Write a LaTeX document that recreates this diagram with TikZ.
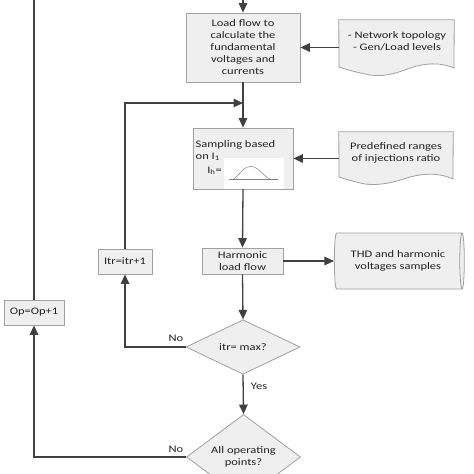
\documentclass[tikz,border=0pt]{standalone}
\usepackage{fontspec}
\setmainfont{Carlito}[FakeStretch=1.25]
\usetikzlibrary{shapes.geometric,arrows.meta}
\definecolor{ln}{HTML}{404040}
\definecolor{boxline}{HTML}{A0A0A0}
\definecolor{boxfill}{HTML}{EFEFEF}
\definecolor{txt}{HTML}{222222}
\tikzset{
  box/.style={draw=boxline, fill=boxfill, line width=0.8pt, inner sep=0pt, align=center, text=txt},
  conn/.style={draw=ln, line width=1.3pt, -{Triangle[length=9.5pt,width=8.5pt]}},
  plainline/.style={draw=ln, line width=1.3pt},
  docshape/.style={draw=boxline, fill=boxfill, line width=0.8pt},
  lbl/.style={text=txt, inner sep=0pt},
  ghost/.style={draw=none, inner sep=0pt}
}
\begin{document}
\begin{tikzpicture}[x=1pt,y=-1pt,font=\fontsize{10}{12}\selectfont]
\useasboundingbox (0,0) rectangle (474,474);
\clip (0,0) rectangle (474,474);
\fill[white] (0,0) rectangle (474,474);

% main boxes
\node[box, minimum width=114pt, minimum height=69pt] (lf) at (243,47.5)
  {Load flow to\\calculate the\\fundamental\\voltages and\\currents};
\node[box, minimum width=100pt, minimum height=61pt] (s) at (243,158.5) {};
\node[lbl, anchor=north west, align=left] (stxt) at (195.5,140) {Sampling based\\on I\textsubscript{1}};
\node[lbl, anchor=east] (ih) at (222,171) {I\textsubscript{h}=};
\node[fill=white, draw=none, minimum width=60pt, minimum height=31pt, inner sep=0pt] (inset) at (253.5,173) {};
\draw[boxline!80!black, line width=0.5pt] (inset.west |- 0,179) ++(6,0) -- ++(49,0);
\draw[boxline!80!black, line width=0.5pt] (234,179) .. controls (242,172) and (244,166) .. (251,166.5)
  .. controls (259,167) and (262,175) .. (270,179);

\node[box, minimum width=81pt, minimum height=26pt] (h) at (242.5,261) {Harmonic\\load flow};
\node[box, minimum width=54pt, minimum height=25pt] (itr) at (125,261.5) {Itr=itr+1};
\node[box, minimum width=60pt, minimum height=25pt] (op) at (34,312.5) {Op=Op+1};
\node[box, diamond, minimum width=114pt, minimum height=54pt] (dm1) at (243,347) {itr= max?};
\node[box, diamond, minimum width=114pt, minimum height=54pt] (dm2) at (243.5,457) {All operating\\points?};

% cylinder
\node[box, cylinder, shape border rotate=0, aspect=0.22, minimum height=130pt, minimum width=56pt] (cyl) at (398,261)
  {THD and harmonic\\voltages samples};

% documents
\node[ghost, minimum width=115pt, minimum height=55pt] (d1) at (396.5,47.5) {};
\draw[docshape] (d1.north west) -- (d1.north east) -- (454,68)
  .. controls (440,62) and (425,63) .. (410,68)
  .. controls (395,74) and (380,78) .. (365,74)
  .. controls (355,72) and (345,69) .. (339,67) -- cycle;
\node[lbl, align=center] (d1t) at (397,41) {- Network topology\\- Gen/Load levels};

\node[ghost, minimum width=114pt, minimum height=51pt] (d2) at (396,157.5) {};
\draw[docshape] (d2.north west) -- (d2.north east) -- (453,179)
  .. controls (440,173) and (425,173) .. (410,177)
  .. controls (395,182) and (380,186) .. (365,184)
  .. controls (355,182) and (345,179) .. (339,177) -- cycle;
\node[lbl, align=center] (d2t) at (396,153) {Predefined ranges\\of injections ratio};

% connectors
\coordinate (top) at (243,0);
\coordinate (optop) at (34,0);
\coordinate (j) at (243,103);
\draw[conn] (top) -- (lf.north);
\draw[conn] (d1.west) -- (lf.east);
\draw[conn] (lf.south) -- (s.north);
\draw[conn] (d2.west |- s.east) -- (s.east);
\draw[conn] (itr.north) |- (j);
\draw[conn] (s.south) -- (h.north);
\draw[conn] (h.east) -- (cyl.west);
\draw[conn] (h.south) -- (dm1.north);
\draw[conn] (dm1.west) -| (itr.south);
\draw[conn] (dm1.south) -- (dm2.north);
\draw[conn] (dm2.west) -| (op.south);
\draw[plainline] (op.north) -- (optop);

% labels
\node[lbl] (no1) at (176,338) {No};
\node[lbl] (no2) at (176,449) {No};
\node[lbl] (yes) at (259,386) {Yes};
\end{tikzpicture}
\end{document}
